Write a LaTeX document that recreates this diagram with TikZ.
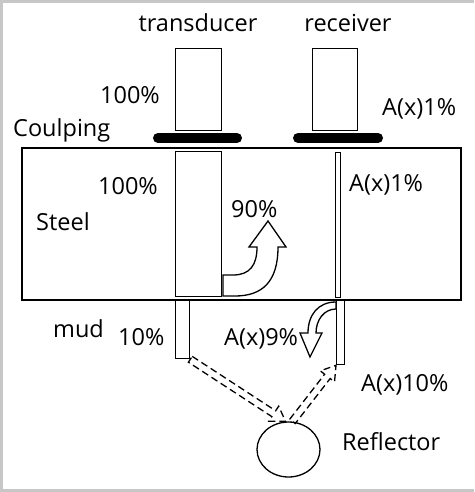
\documentclass[tikz,border=0pt]{standalone}
\usepackage{fontspec}
\setmainfont{Open Sans}
\usetikzlibrary{positioning, calc, shapes.geometric}

% dashed hollow arrow between two points
\newcommand\hollowray[2]{%
  \coordinate (hb) at ($(#2)!14pt!(#1)$);
  \draw[ray] ($(#1)!3.5pt!90:(#2)$) -- ($(hb)!3.5pt!90:(#2)$) -- ($(hb)!9pt!90:(#2)$)
    -- (#2) -- ($(hb)!9pt!-90:(#2)$) -- ($(hb)!3.5pt!-90:(#2)$) -- ($(#1)!3.5pt!-90:(#2)$) -- cycle;
}

\begin{document}
\begin{tikzpicture}[
        x=1pt, y=1pt,
        box/.style={draw, line width=1.3pt, inner sep=0pt, anchor=north west},
        lbl/.style={inner sep=0pt, font=\fontsize{23.5}{28}\selectfont},
        couple/.style={line width=10pt, line cap=round},
        ray/.style={line width=1.3pt, dash pattern=on 7pt off 4pt},
        bentarrow/.style={draw, fill=white, line width=1.3pt, line join=miter}
      ]
        \useasboundingbox (0,0) rectangle (474,-492);
        \draw[black!22, line width=3pt] (474,-1.5) -- (1.5,-1.5) -- (1.5,-490.5) -- (474,-490.5);

        % probes above the plate
        \node[box, minimum width=46pt, minimum height=82pt] (tr_box) at (175,-48) {};
        \node[box, minimum width=45pt, minimum height=82pt] (rc_box) at (312,-48) {};
        \node[lbl, anchor=base] (tr_lbl) at (198,-32) {transducer};
        \node[lbl, anchor=base] (rc_lbl) at (348,-32) {receiver};
        \draw[couple] (158,-138) -- (237,-138);
        \draw[couple] (298,-138) -- (378,-138);
        \node[lbl, anchor=base east] (in_lbl) at (160,-103) {100\%};
        \node[lbl, anchor=base west] (cp_lbl) at (13,-136) {Coulping};
        \node[lbl, anchor=base west] (out_lbl) at (382,-116) {A(x)1\%};

        % steel plate
        \node[box, line width=2pt, minimum width=439pt, minimum height=152pt] (steel) at (21,-147) {};
        \node[box, minimum width=46pt, minimum height=145pt] (tr_steel) at (175,-151) {};
        \node[box, minimum width=5pt, minimum height=145pt] (rc_steel) at (335,-152) {};
        \node[lbl, anchor=base east] (st_in) at (158,-194) {100\%};
        \node[lbl, anchor=base west] (st_lbl) at (36,-230) {Steel};
        \node[lbl, anchor=base west] (st_out) at (349,-191) {A(x)1\%};
        \draw[bentarrow] (223,-296) -- (223,-275) -- (233,-275) .. controls (250,-275) and (257,-265) .. (257,-247)
          -- (249,-247) -- (268,-221) -- (286,-247) -- (278,-247)
          .. controls (278,-282) and (262,-296) .. (235,-296) -- cycle;
        \node[lbl, anchor=base west] (st_ref) at (231,-217) {90\%};

        % mud layer
        \node[box, minimum width=14pt, minimum height=58pt] (tr_mud) at (175,-300) {};
        \node[box, minimum width=8pt, minimum height=64pt] (rc_mud) at (336,-300) {};
        \node[lbl, anchor=base west] (md_lbl) at (53,-337) {mud};
        \node[lbl, anchor=base west] (md_in) at (118,-345) {10\%};
        \draw[bentarrow] (336,-302) .. controls (318,-302) and (308,-315) .. (308,-333)
          -- (300,-333) -- (310,-357) -- (322,-333) -- (316,-333)
          .. controls (316,-320) and (324,-309) .. (336,-309) -- cycle;
        \node[lbl, anchor=base west] (md_ref) at (224,-345) {A(x)9\%};
        \node[lbl, anchor=base west] (md_out) at (361,-391) {A(x)10\%};

        % reflector
        \node[draw, ellipse, line width=1.3pt, minimum width=63pt, minimum height=55pt] (refl) at (288.5,-449.5) {};
        \node[lbl, anchor=base west] (rf_lbl) at (342,-450) {Reflector};
        \coordinate (rf_in) at ([xshift=-3pt]refl.north);
        \coordinate (rf_out) at ([xshift=4pt]refl.north);
        \hollowray{tr_mud.south east}{rf_in}
        \hollowray{rf_out}{rc_mud.south west}
      \end{tikzpicture}
\end{document}
